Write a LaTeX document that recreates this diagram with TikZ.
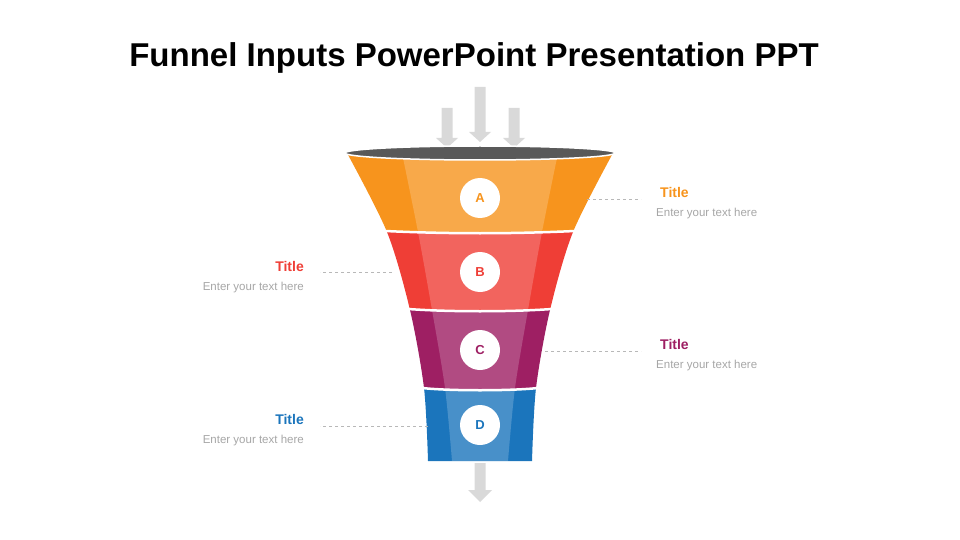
\documentclass[tikz,border=0pt]{standalone}
\usepackage{fontspec}
\setmainfont{Liberation Sans}
\definecolor{cA}{HTML}{F7941D}
\definecolor{cB}{HTML}{EF3E36}
\definecolor{cC}{HTML}{9E1F63}
\definecolor{cD}{HTML}{1B75BC}
\definecolor{arr}{HTML}{D9D9D9}
\definecolor{rim}{HTML}{595959}
\definecolor{txt}{HTML}{A6A6A6}
\newcommand{\funnelpath}{plot[smooth] coordinates {(347,153) (387,232) (410,310) (424,388) (428,461)} -- plot[smooth] coordinates {(532,461) (536,388) (550,310) (573,232) (613,153)} -- cycle}
\newcommand{\innerpath}{plot[smooth] coordinates {(402,153) (418,232) (432,310) (445,388) (452,461)} -- plot[smooth] coordinates {(508,461) (515,388) (528,310) (542,232) (558,153)} -- cycle}
\tikzset{circ/.style={circle,fill=white,minimum size=40pt,inner sep=0pt,font=\bfseries\fontsize{13}{13}\selectfont},
 ttl/.style={font=\bfseries\fontsize{14}{14}\selectfont,inner sep=0pt},
 sub/.style={font=\fontsize{11.5}{12}\selectfont,text=txt,inner sep=0pt},
 dl/.style={draw=txt!80,dashed,line width=0.6pt},
 barrow/.style={fill=arr}}
\begin{document}
\begin{tikzpicture}[x=1pt,y=-1pt]
\useasboundingbox (0,0) rectangle (960,540);
\node[font=\bfseries\fontsize{33}{33}\selectfont] (head) at (474,58) {Funnel Inputs PowerPoint Presentation PPT};
% top arrows
\foreach \x/\a/\b in {447/108/138,480/87/132,514/108/138}{
 \fill[arr] (\x-5.5,\a) -- (\x+5.5,\a) -- (\x+5.5,\b) -- (\x+11,\b) -- (\x,\b+10) -- (\x-11,\b) -- (\x-5.5,\b) -- cycle;}
\fill[arr] (474.5,463) -- (485.5,463) -- (485.5,490) -- (492,490) -- (480,502) -- (468,490) -- (474.5,490) -- cycle;
% bands
\foreach \c/\ya/\yb in {cA/150/232,cB/232/310,cC/310/389,cD/389/470}{
 \begin{scope}
 \clip (300,\ya) rectangle (660,\yb);
 \fill[\c] \funnelpath;
 \fill[white,opacity=0.2] \innerpath;
 \end{scope}}
\foreach \y/\xa/\xb in {232/385/575,310/408/552,389/422/538}{
 \draw[white,line width=2.5pt] (\xa,\y-1) .. controls (450,\y+2) and (510,\y+2) .. (\xb,\y-1);}
\fill[rim,draw=white,line width=1.5pt] (480,153) ellipse (135 and 7);
% circles
\node[circ,text=cA] (a) at (480,198) {A};
\node[circ,text=cB] (b) at (480,272) {B};
\node[circ,text=cC] (c) at (480,350) {C};
\node[circ,text=cD] (d) at (480,425) {D};
% labels
\coordinate (la) at (587,199); \coordinate (la2) at (641,199);
\draw[dl] (la) -- (la2);
\node[ttl,text=cA,anchor=west] (ta) at (660,192) {Title};
\node[sub,anchor=west] (sa) at (656,214) {Enter your text here};
\coordinate (lb) at (392,272); \coordinate (lb2) at (320,272);
\draw[dl] (lb) -- (lb2);
\node[ttl,text=cB,anchor=east] (tb) at (304,266) {Title};
\node[sub,anchor=east] (sb) at (304,288) {Enter your text here};
\coordinate (lc) at (545,351); \coordinate (lc2) at (641,351);
\draw[dl] (lc) -- (lc2);
\node[ttl,text=cC,anchor=west] (tc) at (660,344) {Title};
\node[sub,anchor=west] (sc) at (656,366) {Enter your text here};
\coordinate (ld) at (428,426); \coordinate (ld2) at (320,426);
\draw[dl] (ld) -- (ld2);
\node[ttl,text=cD,anchor=east] (td) at (304,419) {Title};
\node[sub,anchor=east] (sd) at (304,441) {Enter your text here};
\end{tikzpicture}
\end{document}
